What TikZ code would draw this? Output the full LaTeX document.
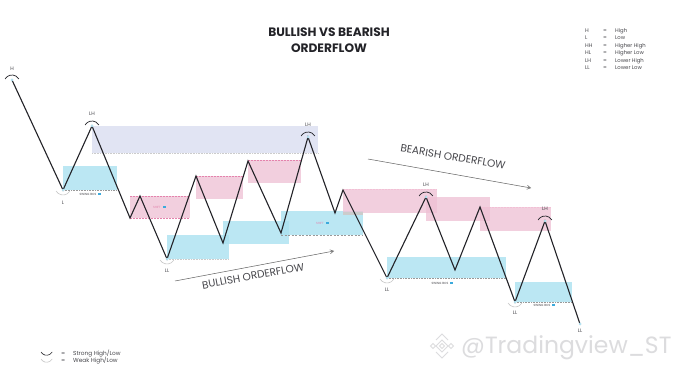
\documentclass[tikz,border=0pt]{standalone}
\usepackage{fontspec}
\setmainfont{Poppins}
\usetikzlibrary{calc,arrows.meta}
\definecolor{zz}{RGB}{35,35,40}
\definecolor{bboxc}{RGB}{170,225,240}
\definecolor{pboxc}{RGB}{238,192,212}
\definecolor{lboxc}{RGB}{218,222,240}
\definecolor{plinec}{RGB}{228,130,172}
\definecolor{gtext}{RGB}{70,70,75}
\definecolor{wmc}{RGB}{220,220,222}
\definecolor{dotc}{RGB}{180,225,240}
\definecolor{sqc}{RGB}{60,170,220}
\tikzset{
  bluebox/.style={fill=bboxc,fill opacity=0.8,draw=none},
  pinkbox/.style={fill=pboxc,fill opacity=0.75,draw=none},
  lavbox/.style={fill=lboxc,fill opacity=0.8,draw=none},
  pdash/.style={draw=plinec,dash pattern=on 1.5pt off 1.5pt,line width=0.5pt},
  gdot/.style={draw=gray!80,dash pattern=on 0.8pt off 0.8pt,line width=0.5pt},
  zig/.style={draw=zz,line width=1.1pt,line join=miter},
  strong/.style={draw=zz,line width=0.7pt},
  weak/.style={draw=gray!45,line width=0.6pt},
  ptlab/.style={font=\fontsize{5}{5}\selectfont,text=gtext,inner sep=0pt},
  tiny/.style={font=\fontsize{3}{3}\selectfont,text=gtext,inner sep=0pt},
  flowtxt/.style={font=\fontsize{10.5}{10.5}\selectfont,text=gtext,inner sep=0pt},
  flowarrow/.style={draw=gray!75!black,line width=0.5pt,-{Straight Barb[length=3.5pt,width=4pt]}},
  legtxt/.style={font=\fontsize{5.3}{5.3}\selectfont,text=gtext,inner sep=0pt,anchor=west},
  pivot/.style={circle,fill=dotc,inner sep=0pt,minimum size=3pt},
}
\newcommand{\strongarc}[1]{\draw[strong] ($(#1)+(-6.93,-1)$) arc[start angle=150,end angle=30,radius=8pt];}
\newcommand{\weakarc}[1]{\draw[weak] ($(#1)+(-6.93,1)$) arc[start angle=210,end angle=330,radius=8pt];}
\begin{document}
\begin{tikzpicture}[x=1pt,y=-1pt]
\useasboundingbox (0,0) rectangle (680,374);
\fill[white] (0,0) rectangle (680,374);

% zigzag points
\coordinate (p0) at (12,80);
\coordinate (p1) at (63,190);
\coordinate (p2) at (92,126);
\coordinate (p3) at (130,218);
\coordinate (p4) at (140,196);
\coordinate (p5) at (167,259);
\coordinate (p6) at (196,176);
\coordinate (p7) at (223,243);
\coordinate (p8) at (248,161);
\coordinate (p9) at (281,233);
\coordinate (p10) at (308,137);
\coordinate (p11) at (335,213);
\coordinate (p12) at (343,190);
\coordinate (p13) at (387,278);
\coordinate (p14) at (426,197);
\coordinate (p15) at (455,270);
\coordinate (p16) at (480,207);
\coordinate (p17) at (515,302);
\coordinate (p18) at (545,221);
\coordinate (p19) at (580,324);

% boxes
\fill[lavbox] (92,126) rectangle (318,153);
\draw[gdot,draw=gray!40] (92,153) -- (318,153);
\fill[bluebox] (63,166) rectangle (117,190);
\draw[gdot] (63,190) -- (117,190);
\fill[pinkbox] (130,196) rectangle (190,218);
\draw[pdash] (130,196) -- (190,196);
\draw[pdash] (130,218) -- (190,218);
\fill[pinkbox] (196,176) rectangle (243,199);
\draw[pdash] (196,176) -- (243,176);
\fill[pinkbox] (248,160) rectangle (301,183);
\draw[pdash] (248,160) -- (301,160);
\fill[bluebox] (167,235) rectangle (229,259);
\draw[gdot,draw=gray!40] (167,259) -- (229,259);
\fill[bluebox] (223,221) rectangle (289,244);
\fill[bluebox] (281,211) rectangle (363,235);
\draw[gdot,dash pattern=on 2pt off 1.5pt] (281,235) -- (363,235);
\fill[pinkbox] (343,189) rectangle (437,213);
\draw[pdash,draw=plinec!50] (343,189) -- (437,189);
\fill[gray!40] (343,212) rectangle (363,215);
\fill[pinkbox] (426,197) rectangle (490,221);
\fill[pinkbox] (480,207) rectangle (551,231);
\draw[pdash,draw=plinec!50] (480,207) -- (551,207);
\fill[bluebox] (387,257) rectangle (506,278);
\draw[gdot] (387,278) -- (506,278);
\fill[bluebox] (515,282) rectangle (572,302);
\draw[gdot] (515,302) -- (572,302);

% box tags
\node[tiny] (sb1) at (88,194) {SWING BOS};
\fill[sqc] ($(sb1.east)+(1.5,-1.4)$) rectangle +(2.8,2.8);
\node[tiny] (sb2) at (440,283) {SWING BOS};
\fill[sqc] ($(sb2.east)+(1.5,-1.4)$) rectangle +(2.8,2.8);
\node[tiny] (sb3) at (542,305) {SWING BOS};
\fill[sqc] ($(sb3.east)+(1.5,-1.4)$) rectangle +(2.8,2.8);
\node[tiny,text=plinec] (sh1) at (157,207) {SHIFT};
\fill[sqc] ($(sh1.east)+(2,-1.4)$) rectangle +(2.8,2.8);
\node[tiny,text=plinec] (sh2) at (320,223) {SHIFT};
\fill[sqc] ($(sh2.east)+(2,-1.4)$) rectangle +(2.8,2.8);

% zigzag
\draw[zig] (p0) -- (p1) -- (p2) -- (p3) -- (p4) -- (p5) -- (p6) -- (p7) -- (p8) -- (p9) -- (p10) -- (p11) -- (p12) -- (p13) -- (p14) -- (p15) -- (p16) -- (p17) -- (p18) -- (p19);

% pivots
\foreach \p in {p0,p1,p2,p5,p10,p13,p14,p17,p18,p19} {\node[pivot] at (\p) {};}

% arcs
\strongarc{p0}
\strongarc{p2}
\strongarc{p10}
\strongarc{p14}
\strongarc{p18}
\weakarc{p1}
\weakarc{p5}
\weakarc{p13}
\weakarc{p17}

% point labels
\node[ptlab] (lH) at (12,69) {H};
\node[ptlab] (lL) at (63,203) {L};
\node[ptlab] (lLH1) at (92,114) {LH};
\node[ptlab] (lLL1) at (167,271) {LL};
\node[ptlab] (lLH2) at (308,125) {LH};
\node[ptlab] (lLL2) at (387,290) {LL};
\node[ptlab] (lLH3) at (426,185) {LH};
\node[ptlab] (lLH4) at (545,209) {LH};
\node[ptlab] (lLL3) at (515,313) {LL};
\node[ptlab] (lLL4) at (580,331) {LL};

% orderflow arrows
\coordinate (ba0) at (175,281);
\coordinate (ba1) at (334,251);
\draw[flowarrow] (ba0) -- (ba1);
\node[flowtxt,rotate=10.5] (bull) at (253,276) {BULLISH ORDERFLOW};
\coordinate (be0) at (368,159);
\coordinate (be1) at (531,188);
\draw[flowarrow] (be0) -- (be1);
\node[flowtxt,rotate=-9.5] (bear) at (453,157) {BEARISH ORDERFLOW};

% title
\node[font=\bfseries\fontsize{12.2}{16}\selectfont,align=center,text=zz] (title) at (329,40) {BULLISH VS BEARISH\\ORDERFLOW};

% legend top right
\foreach \y/\a/\b in {31/H/High,38/L/Low,46/HH/Higher High,53/HL/Higher Low,61/LH/Lower High,68/LL/Lower Low} {
  \node[legtxt] at (585,\y) {\a};
  \node[legtxt] at (603,\y) {=};
  \node[legtxt] at (615,\y) {\b};
}

% legend bottom left
\draw[strong,line width=0.6pt] (41,352) arc[start angle=210,end angle=330,radius=6.5pt];
\draw[weak] (41,359) arc[start angle=210,end angle=330,radius=6.5pt];
\node[legtxt,font=\fontsize{5.8}{5.8}\selectfont] at (61,354) {=};
\node[legtxt,font=\fontsize{5.8}{5.8}\selectfont] (ls) at (73,354) {Strong High/Low};
\node[legtxt,font=\fontsize{5.8}{5.8}\selectfont] at (61,361) {=};
\node[legtxt,font=\fontsize{5.8}{5.8}\selectfont] (lw) at (73,361) {Weak High/Low};

% watermark
\begin{scope}[draw=wmc,line width=1pt]
  \draw (442,340) -- (448,346) -- (442,352) -- (436,346) -- cycle;
  \draw (442,343.5) -- (444.5,346) -- (442,348.5) -- (439.5,346) -- cycle;
  \draw (433,343.5) -- (435.5,346) -- (433,348.5) -- (430.5,346) -- cycle;
  \draw (451,343.5) -- (453.5,346) -- (451,348.5) -- (448.5,346) -- cycle;
  \draw (436,340) -- (442,334) -- (448,340);
  \draw (436,352) -- (442,358) -- (448,352);
\end{scope}
\node[font=\fontsize{23.5}{23.5}\selectfont,text=wmc,anchor=west,inner sep=0pt] (wm) at (461,348) {@Tradingview\_ST};
\end{tikzpicture}
\end{document}
